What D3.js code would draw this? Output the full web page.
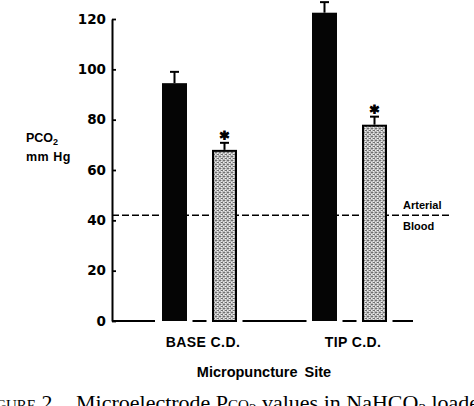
<!DOCTYPE html>
<html>
<head>
<meta charset="utf-8">
<script src="https://cdn.jsdelivr.net/npm/d3@7"></script>
<style>
  html, body { margin: 0; padding: 0; background: #fff; }
  svg { display: block; }
</style>
</head>
<body>
<svg id="chart" width="474" height="406"></svg>
<script>
// ---- data ----
const categories = ["BASE C.D.", "TIP C.D."];
const seriesNames = ["solid", "stippled"];
const solidValues = [94.5, 122.5];
const solidErrors = [4.5, 4.2];
const stippledValues = [68, 78];
const stippledErrors = [2.8, 3.2];
const stippledSignificant = [true, true];
const yTicks = [0, 20, 40, 60, 80, 100, 120];
const arterialValue = 42;
const yLabelLines = ["PCO", "mm Hg"];
const xTitle = "Micropuncture Site";
const refLabel = ["Arterial", "Blood"];

// ---- build ----
const svg = d3.select("#chart");
const axisX = 112;

const y = d3.scaleLinear().domain([0, 120]).range([321, 19]);
const x0 = d3.scaleBand().domain(categories).range([125, 425]).padding(0);
const x1 = d3.scaleBand().domain(seriesNames).range([37, 112]).paddingInner(0.5).paddingOuter(0);

const defs = svg.append("defs");
const pat = defs.append("pattern").attr("id", "stip")
  .attr("width", 4).attr("height", 4).attr("patternUnits", "userSpaceOnUse");
pat.append("rect").attr("width", 4).attr("height", 4).attr("fill", "#bababa");
[[0,0],[2,2],[3,0],[1,2]].forEach(p => pat.append("rect").attr("x", p[0]).attr("y", p[1]).attr("width", 1).attr("height", 1).attr("fill", "#707070"));
[[1,3],[3,2],[1,1]].forEach(p => pat.append("rect").attr("x", p[0]).attr("y", p[1]).attr("width", 1).attr("height", 1).attr("fill", "#ededed"));

// dashed arterial line (behind bars)
svg.append("line")
  .attr("x1", axisX).attr("x2", 450)
  .attr("y1", y(arterialValue)).attr("y2", y(arterialValue))
  .attr("stroke", "#000").attr("stroke-width", 1.6)
  .attr("stroke-dasharray", "7,3");

const rows = categories.map((c, i) => ({
  cat: c,
  bars: [
    {s: "solid", v: solidValues[i], e: solidErrors[i], sig: false},
    {s: "stippled", v: stippledValues[i], e: stippledErrors[i], sig: stippledSignificant[i]}
  ]
}));

const bars = [];
rows.forEach(r => r.bars.forEach(b => {
  bars.push(Object.assign({x: x0(r.cat) + x1(b.s), w: x1.bandwidth()}, b));
}));

// baseline segments between bars
const sorted = bars.slice().sort((a, b) => a.x - b.x);
const segs = [];
segs.push([axisX, sorted[0].x - 7]);
for (let i = 0; i < sorted.length - 1; i++) {
  segs.push([sorted[i].x + sorted[i].w + 5.5, sorted[i + 1].x - 5.5]);
}
const last = sorted[sorted.length - 1];
segs.push([last.x + last.w + 5.5, last.x + last.w + 26]);
svg.selectAll(".base").data(segs).enter().append("line")
  .attr("x1", d => d[0]).attr("x2", d => d[1])
  .attr("y1", y(0)).attr("y2", y(0))
  .attr("stroke", "#000").attr("stroke-width", 2);

// error bars
const eg = svg.selectAll(".err").data(bars).enter().append("g");
eg.append("line")
  .attr("x1", d => d.x + d.w / 2).attr("x2", d => d.x + d.w / 2)
  .attr("y1", d => y(d.v)).attr("y2", d => y(d.v + d.e))
  .attr("stroke", "#000").attr("stroke-width", 2);
eg.append("line")
  .attr("x1", d => d.x + d.w / 2 - 4.5).attr("x2", d => d.x + d.w / 2 + 4.5)
  .attr("y1", d => y(d.v + d.e)).attr("y2", d => y(d.v + d.e))
  .attr("stroke", "#000").attr("stroke-width", 2);

// bars
svg.selectAll(".bar").data(bars).enter().append("rect")
  .attr("x", d => d.s === "solid" ? d.x : d.x + 1)
  .attr("y", d => d.s === "solid" ? y(d.v) : y(d.v) + 1)
  .attr("width", d => d.s === "solid" ? d.w : d.w - 2)
  .attr("height", d => d.s === "solid" ? y(0) - y(d.v) : y(0) - y(d.v) - 1)
  .attr("fill", d => d.s === "solid" ? "#050505" : "url(#stip)")
  .attr("stroke", d => d.s === "solid" ? "none" : "#000")
  .attr("stroke-width", 2);

// asterisks
svg.selectAll(".ast").data(bars.filter(d => d.sig)).enter().append("text")
  .attr("x", d => d.x + d.w / 2).attr("y", d => y(d.v + d.e) + 1)
  .attr("text-anchor", "middle")
  .attr("font-family", "DejaVu Sans, sans-serif")
  .attr("font-weight", "bold").attr("font-size", 17)
  .attr("stroke", "#000").attr("stroke-width", 1.2)
  .text("*");

// y axis
const yAxis = d3.axisLeft(y).tickValues(yTicks).tickSize(-4).tickSizeOuter(0).tickPadding(6);
const ag = svg.append("g").attr("transform", `translate(${axisX},0)`).call(yAxis);
ag.select(".domain").attr("stroke", "#000").attr("stroke-width", 2);
ag.selectAll(".tick line").attr("stroke", "#000").attr("stroke-width", 1.8);
ag.selectAll(".tick text")
  .attr("font-family", "DejaVu Sans, sans-serif")
  .attr("font-weight", "bold").attr("font-size", 13.5)
  .attr("fill", "#000");

// y label
const yl = svg.append("text")
  .attr("font-family", "Liberation Sans, Arial, sans-serif")
  .attr("font-weight", "bold").attr("font-size", 12.5);
yl.append("tspan").attr("x", 26).attr("y", 142).text(yLabelLines[0]);
yl.append("tspan").attr("dy", 3).attr("font-size", 9).text("2");
svg.append("text")
  .attr("x", 26).attr("y", 161)
  .attr("font-family", "Liberation Sans, Arial, sans-serif")
  .attr("font-weight", "bold").attr("font-size", 12.5)
  .attr("letter-spacing", 0.5)
  .text(yLabelLines[1]);

// category labels
svg.selectAll(".cat").data(categories).enter().append("text")
  .attr("x", d => x0(d) + x0.bandwidth() / 2 + 3)
  .attr("y", 347)
  .attr("text-anchor", "middle")
  .attr("font-family", "Liberation Sans, Arial, sans-serif")
  .attr("font-weight", "bold").attr("font-size", 14)
  .attr("letter-spacing", 0.4)
  .text(d => d);

// x title
svg.append("text")
  .attr("x", 264).attr("y", 377)
  .attr("text-anchor", "middle")
  .attr("font-family", "Liberation Sans, Arial, sans-serif")
  .attr("font-weight", "bold").attr("font-size", 14.5)
  .attr("word-spacing", 3)
  .text(xTitle);

// arterial blood label
svg.append("text")
  .attr("x", 403).attr("y", 209)
  .attr("font-family", "Liberation Sans, Arial, sans-serif")
  .attr("font-weight", "bold").attr("font-size", 11)
  .text(refLabel[0]);
svg.append("text")
  .attr("x", 403).attr("y", 230)
  .attr("font-family", "Liberation Sans, Arial, sans-serif")
  .attr("font-weight", "bold").attr("font-size", 11)
  .text(refLabel[1]);

// caption (cut off at the bottom edge, as in the reference)
svg.append("text")
  .attr("x", 58).attr("y", 410)
  .attr("text-anchor", "end")
  .attr("font-family", "Liberation Serif, Times New Roman, serif")
  .attr("font-size", 22).attr("font-variant", "small-caps")
  .text("Figure 2.");
const cap = svg.append("text")
  .attr("x", 76).attr("y", 410)
  .attr("font-family", "Liberation Serif, Times New Roman, serif")
  .attr("font-size", 22);
cap.append("tspan").text("Microelectrode P");
cap.append("tspan").attr("font-variant", "small-caps").text("co");
cap.append("tspan").attr("dy", 4).attr("font-size", 15).text("2");
cap.append("tspan").attr("dy", -4).text(" values in NaHCO");
cap.append("tspan").attr("dy", 4).attr("font-size", 15).text("3");
cap.append("tspan").attr("dy", -4).text(" loaded rats");
</script>
</body>
</html>
